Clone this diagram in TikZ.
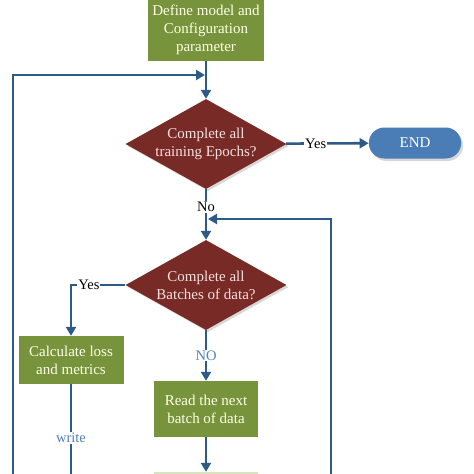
\documentclass[tikz,border=0pt]{standalone}
\usepackage{fontspec}
\setmainfont{Liberation Serif}
\usetikzlibrary{shapes.geometric,shapes.misc,arrows.meta,shadows}
\definecolor{boxgreen}{HTML}{77933C}
\definecolor{diared}{HTML}{782A26}
\definecolor{linkblue}{HTML}{2E5A88}
\definecolor{endblue}{HTML}{4A7DB5}
\definecolor{lblblue}{HTML}{4F81BD}
\definecolor{cream}{HTML}{FFFFE6}
\definecolor{pinktext}{HTML}{F5E1E0}
\definecolor{palebox}{HTML}{D7E4BD}
\tikzset{
  txt/.style={font=\fontsize{15}{18}\selectfont, align=center},
  gbox/.style={txt, rectangle, fill=boxgreen, text=cream, inner sep=2pt},
  dia/.style={txt, diamond, fill=diared, text=pinktext, minimum width=161pt, minimum height=90pt, inner sep=0pt, aspect=1.79,
    drop shadow={opacity=0.3, shadow xshift=2pt, shadow yshift=-2pt}},
  endn/.style={txt, rounded rectangle, fill=endblue, text=white, minimum width=99pt, minimum height=31pt,
    drop shadow={opacity=0.3, shadow xshift=2pt, shadow yshift=-2.5pt}},
  conn/.style={draw=linkblue, line width=2.6pt},
  arr/.style={conn, -{Triangle[length=9pt,width=10pt]}},
  lbl/.style={font=\fontsize{14.5}{16}\selectfont, fill=white, inner sep=1pt, text=black},
  blbl/.style={lbl, text=lblblue},
}
\begin{document}
\begin{tikzpicture}[x=1pt,y=-1pt]
\clip (0,0) rectangle (474,474);
\fill[white] (0,0) rectangle (474,474);

\node[gbox, minimum width=116pt, minimum height=62pt] (def) at (206,30) {Define model and\\Configuration\\parameter};
\node[dia] (d1) at (206,144) {Complete all\\training Epochs?};
\node[endn] (end) at (415,143) {END};
\node[dia] (d2) at (206,285) {Complete all\\Batches of data?};
\node[gbox, minimum width=105pt, minimum height=48pt] (calc) at (71,360) {Calculate loss\\and metrics};
\node[gbox, minimum width=104pt, minimum height=56pt] (read) at (206,409) {Read the next\\batch of data};
\node[rectangle, fill=palebox, minimum width=104pt, minimum height=40pt] (next) at (206,492) {};

\coordinate (j1) at (205,75);
\coordinate (lt) at (13,75);
\coordinate (lb) at (13,480);
\coordinate (j2) at (208,219);
\coordinate (rt) at (331,219);
\coordinate (rb) at (331,480);
\coordinate (wb) at (71,480);

\draw[arr] (def) -- (d1);
\draw[arr] (lb) -- (lt) -- (j1);
\draw[arr] (d1) -- node[lbl, pos=0.36]{Yes} (end);
\draw[arr] (d1) -- node[lbl, pos=0.35]{No} (d2);
\draw[arr] (rb) -- (rt) -- (j2);
\draw[arr] (d2.west) -| node[lbl, pos=0.335]{Yes} (calc.north);
\draw[arr] (d2) -- node[blbl, pos=0.5]{NO} (read);
\draw[conn] (calc) -- node[blbl, pos=0.56]{write} (wb);
\draw[arr] (read) -- (next);
\end{tikzpicture}
\end{document}
